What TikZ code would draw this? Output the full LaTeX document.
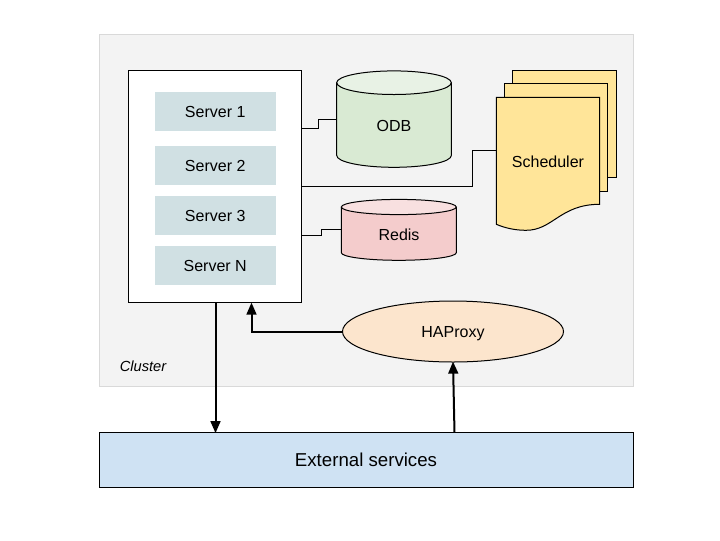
\documentclass[tikz,border=0pt]{standalone}
\usepackage{fontspec}
\setmainfont{Liberation Sans}
\usetikzlibrary{arrows.meta,shapes.geometric}
\definecolor{clusterfill}{HTML}{F3F3F3}
\definecolor{clusterline}{HTML}{D9D9D9}
\definecolor{serverfill}{HTML}{D0E0E3}
\definecolor{odbfill}{HTML}{D9EAD3}
\definecolor{odbtop}{HTML}{E8F2E5}
\definecolor{redisfill}{HTML}{F4CCCC}
\definecolor{redistop}{HTML}{F8E0E0}
\definecolor{docfill}{HTML}{FFE599}
\definecolor{hafill}{HTML}{FCE5CD}
\definecolor{extfill}{HTML}{CFE2F3}
\tikzset{
  x=0.75pt,y=-0.75pt,
  edge/.style={draw=black,line width=0.75pt},
  shapeline/.style={draw=black,line width=0.75pt},
  flow/.style={draw=black,line width=1.5pt,-{Triangle[length=9pt,width=7.4pt]},shorten >=-0.3pt},
  box/.style n args={2}{rectangle,inner sep=0pt,outer sep=0pt,minimum width=#1*0.75pt,minimum height=#2*0.75pt,font=\fontsize{12}{14}\selectfont},
  serverbox/.style={box={121}{39},fill=serverfill},
}
\begin{document}
\begin{tikzpicture}
\useasboundingbox (0,0) rectangle (720,540);
% cluster
\node[box={534}{351.6},fill=clusterfill,draw=clusterline,line width=0.75pt] (cluster) at (366,210.3) {};
\node[font=\fontsize{11}{13}\itshape\selectfont,inner sep=0pt] (clusterlabel) at (143,366) {Cluster};
% server group
\node[box={172.6}{232},fill=white,shapeline] (group) at (215,186.8) {};
\node[serverbox] (s1) at (215.2,111.5) {Server 1};
\node[serverbox] (s2) at (215.2,165.5) {Server 2};
\node[serverbox] (s3) at (215.2,215.5) {Server 3};
\node[serverbox] (sn) at (215.2,265.5) {Server N};
% ODB cylinder
\path[shapeline,fill=odbfill] (336.7,82.7) -- (336.7,155.5) arc[start angle=180,end angle=360,x radius=57.3,y radius=-11.8] -- (451.3,82.7);
\path[shapeline,fill=odbtop] (394,82.7) ellipse[x radius=57.3,y radius=11.8];
\node[box={114.6}{96.6}] (odb) at (394,119) {};
\node[font=\fontsize{12}{14}\selectfont,inner sep=0pt] (odblabel) at (394,125.5) {ODB};
% Redis cylinder
\path[shapeline,fill=redisfill] (341.3,207) -- (341.3,252.7) arc[start angle=180,end angle=360,x radius=57.5,y radius=-7.6] -- (456.3,207);
\path[shapeline,fill=redistop] (398.8,207) ellipse[x radius=57.5,y radius=7.6];
\node[box={115}{61}] (redis) at (398.8,229.8) {};
\node[font=\fontsize{12}{14}\selectfont,inner sep=0pt] (redislabel) at (399,234.5) {Redis};
% Scheduler stack
\path[shapeline,fill=docfill] (512.3,70.3) rectangle (616.7,177.3);
\path[shapeline,fill=docfill] (504.3,83.3) rectangle (607.7,191.3);
\path[shapeline,fill=docfill] (496.3,97.3) -- (599.7,97.3) -- (599.7,204.3)
  .. controls (560,204.3) and (553,230.3) .. (526,230.3)
  .. controls (515,230.3) and (505,228) .. (496.3,224.3) -- cycle;
\node[font=\fontsize{12}{14}\selectfont,inner sep=0pt] (sched) at (548,161.5) {Scheduler};
\coordinate (schedin) at (496.3,150);
% HAProxy
\node[ellipse,inner sep=0pt,outer sep=0pt,minimum width=221*0.75pt,minimum height=61*0.75pt,fill=hafill,shapeline,text depth=0pt,font=\fontsize{12}{14}\selectfont] (ha) at (453,331.5) {HAProxy};
% External services
\node[box={534}{54.6},fill=extfill,shapeline,font=\fontsize{14}{17}\selectfont] (ext) at (366,460) {External services};
% thin connectors
\coordinate (odbout) at (301,128.5);
\coordinate (schedout) at (301,186.5);
\coordinate (redisout) at (301,235);
\draw[edge] (odbout) -- (318.5,128.5) -- (318.5,119) -- (odb.west);
\draw[edge] (schedout) -- (472.5,186.5) -- (472.5,150) -- (schedin);
\draw[edge] (redisout) -- (321.5,235) -- (321.5,229.8) -- (redis.west);
% flows
\coordinate (groupin) at (251.5,303);
\coordinate (groupout) at (215.5,303);
\coordinate (extout) at (454.5,432.7);
\draw[flow] (groupout) -- (groupout |- ext.north);
\draw[flow] (ha.west) -| (groupin);
\draw[flow] (extout) -- (ha.south);
\end{tikzpicture}
\end{document}
